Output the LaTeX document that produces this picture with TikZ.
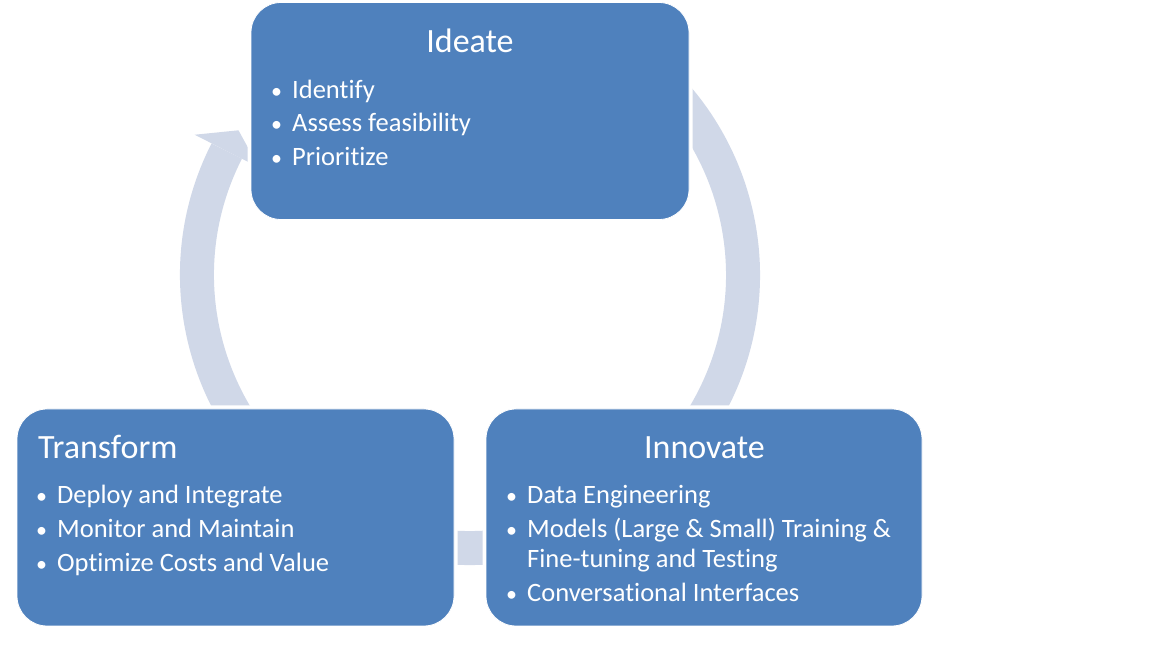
\documentclass[tikz,border=0pt]{standalone}
\usepackage{fontspec}
\setmainfont{Carlito}[Ligatures={NoCommon}]
\usetikzlibrary{calc}
\definecolor{boxblue}{HTML}{4F81BD}
\definecolor{ringcol}{HTML}{D0D8E8}
\newcommand{\bul}{\llap{{\fontsize{22}{22}\selectfont\textbullet}\hspace{10pt}}}
\begin{document}
\begin{tikzpicture}[x=1pt,y=1pt,
  stagebox/.style={rounded corners=30pt, fill=boxblue, draw=white, line width=0.8pt,
    preaction={draw=white, line width=7pt},
    minimum width=#1, minimum height=217pt, inner sep=0pt, outer sep=0pt},
  titletext/.style={text=white, font=\fontsize{34}{40}\selectfont, anchor=base, inner sep=0pt},
  itemtext/.style={text=white, font=\fontsize{26.5}{31}\selectfont, anchor=base west, inner sep=0pt},
  ringline/.style={draw=ringcol, line width=34pt},
  ringhead/.style={fill=ringcol}
]
\useasboundingbox (0,0) rectangle (1152,648);
\fill[white] (0,0) rectangle (1152,648);

% ring behind the boxes
\coordinate (c) at (470,373);
\draw[ringline] ($(c)+(153:273)$) arc[start angle=153, end angle=420, radius=273];
\fill[ringhead] ($(c)+(153:309)$) -- ($(c)+(148:273)$) -- ($(c)+(153:237)$) -- cycle;

% boxes
\node[stagebox=438pt] (ideate) at (470,537) {};
\node[stagebox=437pt] (transform) at (235.5,130.5) {};
\node[stagebox=436pt] (innovate) at (704,130.5) {};

% Ideate
\node[titletext] (ideatetitle) at (470,595) {Ideate};
\node[itemtext] (id1) at (292,549) {\bul Identify};
\node[itemtext] (id2) at (292,516) {\bul Assess feasibility};
\node[itemtext] (id3) at (292,482) {\bul Prioritize};

% Transform
\node[titletext, anchor=base west] (transformtitle) at (38,189) {Transform};
\node[itemtext] (tr1) at (57,144) {\bul Deploy and Integrate};
\node[itemtext] (tr2) at (57,110) {\bul Monitor and Maintain};
\node[itemtext] (tr3) at (57,76) {\bul Optimize Costs and Value};

% Innovate
\node[titletext] (innovatetitle) at (704.5,189) {Innovate};
\node[itemtext] (in1) at (527,144) {\bul Data Engineering};
\node[itemtext] (in2) at (527,110) {\bul Models (Large \& Small) Training \&};
\node[itemtext] (in2b) at (527,80) {Fine-tuning and Testing};
\node[itemtext] (in3) at (527,46) {\bul Conversational Interfaces};
\end{tikzpicture}
\end{document}
